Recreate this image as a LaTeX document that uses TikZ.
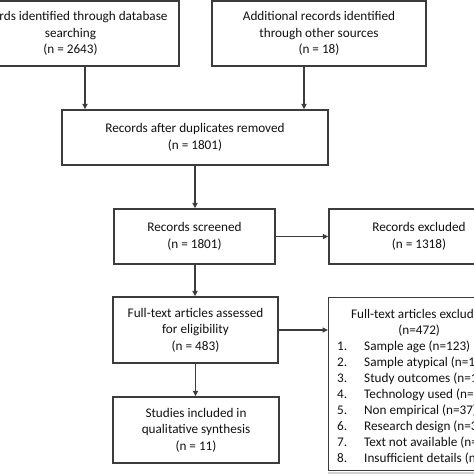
\documentclass[tikz,border=0pt]{standalone}
\usepackage{fontspec}
\setmainfont{Carlito}
\usetikzlibrary{arrows.meta,calc}
\definecolor{ln}{HTML}{3C3C3C}
\definecolor{tx}{HTML}{111111}
\begin{document}
\begin{tikzpicture}[x=1pt,y=-1pt,
  box/.style={draw=ln, line width=1.3pt, align=center, text=tx, inner sep=0pt,
    font=\fontsize{13.2}{16.5}\selectfont},
  arr/.style={draw=ln, line width=1.3pt, -{Triangle[length=5.5pt,width=5pt]}},
  txt/.style={text=tx, inner sep=0pt, font=\fontsize{13.2}{16}\selectfont}]
\useasboundingbox (0,0) rectangle (474,474);
\clip (0,0) rectangle (474,474);
\fill[white] (0,0) rectangle (474,474);
% boxes
\node[box, minimum width=217pt, minimum height=65pt] (db) at (70.5,33.5)
  {Records identified through database\\searching\\(n = 2643)};
\node[box, minimum width=214pt, minimum height=65pt] (other) at (319,33.5)
  {Additional records identified\\through other sources\\(n = 18)};
\node[box, minimum width=266pt, minimum height=55pt] (dup) at (195,137.5)
  {Records after duplicates removed\\(n = 1801)};
\node[box, minimum width=161pt, minimum height=55pt] (screened) at (194.5,236.5)
  {Records screened\\(n = 1801)};
\node[box, minimum width=180pt, minimum height=55pt] (excl1) at (419,236.5)
  {Records excluded\\(n = 1318)};
\node[box, minimum width=165pt, minimum height=66pt] (fulltext) at (195.5,330)
  {Full-text articles assessed\\for eligibility\\(n = 483)};
\node[box, minimum width=166pt, minimum height=66pt] (studies) at (196,430)
  {Studies included in\\qualitative synthesis\\(n = 11)};
\node[box, minimum width=182pt, minimum height=173pt, anchor=north west] (excl2) at (328,297) {};
\fill[gray!35] (328,471.5) rectangle (474,474);
\node[txt, anchor=base west] (excl2txt) at ($(excl2.north west)+(9,21)$)
  {\parbox[t]{164pt}{\centering Full-text articles excluded\\(n=472)\par
   \raggedright
   \makebox[27pt][l]{1.}Sample age (n=123)\\
   \makebox[27pt][l]{2.}Sample atypical (n=105)\\
   \makebox[27pt][l]{3.}Study outcomes (n=110)\\
   \makebox[27pt][l]{4.}Technology used (n=25)\\
   \makebox[27pt][l]{5.}Non empirical (n=37)\\
   \makebox[27pt][l]{6.}Research design (n=38)\\
   \makebox[27pt][l]{7.}Text not available (n=20)\\
   \makebox[27pt][l]{8.}Insufficient details (n=14)}};
% connectors
\coordinate (cl) at (85,0);
\coordinate (cr) at (304,0);
\draw[arr] (db.south -| cl) -- (dup.north -| cl);
\draw[arr] (other.south -| cr) -- (dup.north -| cr);
\draw[arr] (dup.south) -- (dup.south |- screened.north);
\draw[arr] (screened.east) -- (screened.east -| excl1.west);
\draw[arr] (screened.south -| dup.south) -- (fulltext.north -| dup.south);
\draw[arr] (fulltext.east) -- (fulltext.east -| excl2.west);
\draw[arr] (fulltext.south) -- (fulltext.south |- studies.north);
\end{tikzpicture}
\end{document}
